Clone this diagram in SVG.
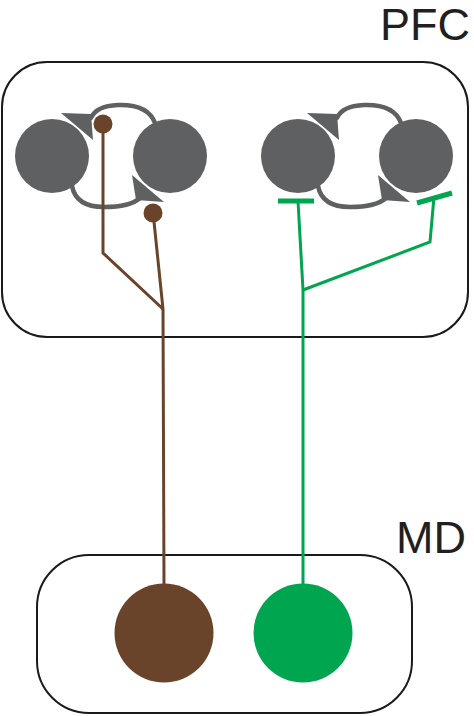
<svg xmlns="http://www.w3.org/2000/svg" width="474" height="716" viewBox="0 0 474 716">
  <style>
    .box { fill: none; stroke: #1a1a1a; stroke-width: 2; }
    .cell { fill: #5f6062; }
    .loop { fill: none; stroke: #5f6062; stroke-width: 4.5; stroke-linecap: round; }
    .tri { fill: #5f6062; }
    .brown { fill: none; stroke: #6a442a; stroke-width: 3; }
    .green { fill: none; stroke: #00a550; stroke-width: 3; }
    .bar { fill: none; stroke: #00a550; stroke-width: 5; }
    .label { font-family: "Liberation Sans", Arial, sans-serif; font-size: 45px; fill: #231f20; }
  </style>
  <defs>
    <g id="pair">
      <path class="loop" d="M91,118 Q96,106 118,105 Q148,104 155,123"/>
      <path class="loop" d="M72,186 Q76,207 104,207 Q130,207 140,198"/>
      <circle class="cell" cx="52" cy="156" r="37"/>
      <circle class="cell" cx="170" cy="156" r="37"/>
      <polygon class="tri" points="61,113 91,114 93,140"/>
      <polygon class="tri" points="132,175 136,200 164,202"/>
    </g>
  </defs>

  <g id="pfc">
    <rect class="box" x="2" y="62" width="466" height="275" rx="45" ry="45"/>
    <text class="label" x="470" y="40" text-anchor="end">PFC</text>
  </g>

  <g id="md">
    <rect class="box" x="37" y="555" width="375" height="158" rx="52" ry="52"/>
    <text class="label" x="466" y="553" text-anchor="end">MD</text>
  </g>

  <g id="pfc-pair-left">
    <use href="#pair"/>
  </g>
  <g id="pfc-pair-right">
    <use href="#pair" transform="translate(246,0)"/>
  </g>

  <g id="connectors">
    <polyline class="brown" points="103,124 103,253 163,309"/>
    <polyline class="brown" points="153,212 163,309 164,586"/>
    <circle cx="103" cy="124" r="9.5" fill="#6a442a"/>
    <circle cx="153" cy="213" r="9.5" fill="#6a442a"/>

    <polyline class="green" points="298,201 303,290 303,586"/>
    <polyline class="green" points="434,197 430,242 303,290"/>
    <line class="bar" x1="278" y1="201" x2="314" y2="201"/>
    <line class="bar" x1="417" y1="203" x2="452" y2="193"/>
  </g>

  <g id="md-brown">
    <circle cx="164" cy="633" r="49.5" fill="#6a442a"/>
  </g>
  <g id="md-green">
    <circle cx="303" cy="633" r="49.5" fill="#00a550"/>
  </g>
</svg>
